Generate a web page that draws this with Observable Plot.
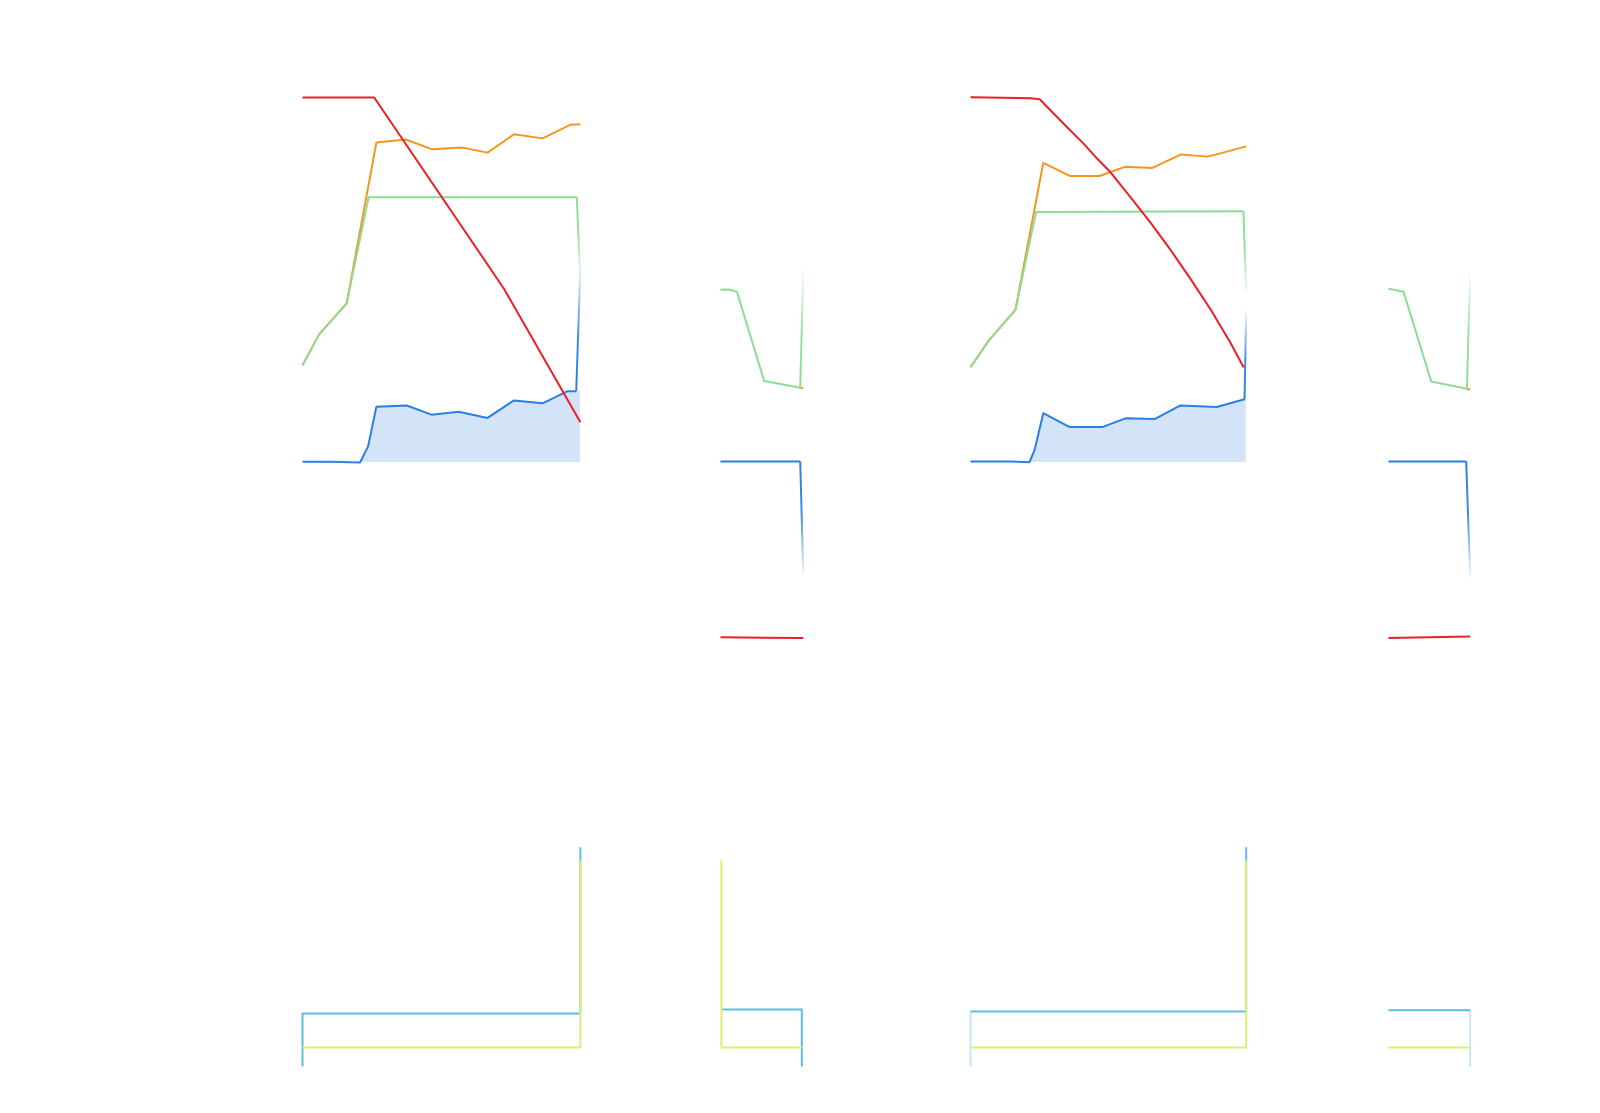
<!DOCTYPE html>
<html><head><meta charset="utf-8">
<script src="https://cdn.jsdelivr.net/npm/d3@7"></script>
<script src="https://cdn.jsdelivr.net/npm/@observablehq/plot@0.6"></script>
<style>
html,body{margin:0;padding:0;background:#fff}
#c{position:relative;width:1600px;height:1113px;background:#fff;overflow:hidden}
</style>
</head><body><div id="c"></div>
<script>
// ---------- top row, panel A ----------
const redA_t = [0, 25.8, 72.5, 100];
const redA_v = [100, 100, 47.6, 11.0];
const orangeA_t = [0, 6.0, 15.9, 26.6, 37.2, 46.7, 57.4, 66.6, 76.1, 86.4, 96.3, 100];
const orangeA_v = [26.6, 35.1, 43.6, 87.7, 88.5, 85.8, 86.3, 84.9, 89.9, 88.8, 92.5, 92.7];
const greenA_t = [0, 6.0, 15.9, 23.8, 98.7, 100];
const greenA_v = [26.6, 35.1, 43.6, 72.7, 72.7, 49.9];
const blueA_t = [0, 10.2, 20.7, 23.6, 26.6, 37.5, 46.4, 56.2, 66.6, 76.1, 86.4, 95.2, 98.5, 100];
const blueA_v = [0.2, 0.2, 0, 4.4, 15.3, 15.6, 13.1, 13.9, 12.2, 17.0, 16.2, 19.5, 19.5, 53.5];
const areaA_t = [0, 10.2, 20.7, 23.6, 26.6, 37.5, 46.4, 56.2, 66.6, 76.1, 86.4, 95.2, 98.5, 100];
const areaA_v = [0.2, 0.2, 0, 4.4, 15.3, 15.6, 13.1, 13.9, 12.2, 17.0, 16.2, 19.5, 19.5, 19.5];

// ---------- top row, panel B ----------
const greenB_t = [0, 10.5, 19.8, 52.8, 96.3, 100];
const greenB_v = [47.3, 47.4, 46.8, 22.3, 20.5, 53.1];
const orangeB_t = [96.3, 100];
const orangeB_v = [20.5, 20.3];
const blueB_t = [0, 96.3, 100];
const blueB_v = [0.27, 0.27, -31.0];
const areaB_t = [0, 96.3, 100];
const areaB_v = [0.27, 0.27, 0.27];
const redB_t = [0, 100];
const redB_v = [-47.9, -48.1];

// ---------- top row, panel C ----------
const redC_t = [0, 21.8, 25.1, 33.8, 41.1, 46.0, 50.8, 58.0, 65.3, 72.5, 79.8, 87.1, 94.3, 99.1];
const redC_v = [100.1, 99.8, 99.5, 92.8, 87.3, 83.2, 79.5, 72.7, 65.7, 58.3, 50.3, 41.9, 32.8, 26.0];
const orangeC_t = [0, 6.6, 16.3, 26.4, 36.0, 46.8, 56.0, 66.0, 76.4, 86.0, 91.6, 100];
const orangeC_v = [26.1, 33.4, 41.8, 82.1, 78.5, 78.5, 81.0, 80.7, 84.4, 83.8, 84.9, 86.6];
const greenC_t = [0, 6.6, 16.3, 23.8, 99.0, 100];
const greenC_v = [26.1, 33.4, 41.8, 68.6, 68.8, 46.2];
const blueC_t = [0, 13.9, 21.4, 23.2, 26.4, 36.0, 47.8, 56.2, 66.8, 76.0, 89.3, 99.4, 100];
const blueC_v = [0.27, 0.27, 0.08, 3.3, 13.5, 9.7, 9.7, 12.1, 11.9, 15.6, 15.2, 17.3, 41.6];
const areaC_t = [0, 13.9, 21.4, 23.2, 26.4, 36.0, 47.8, 56.2, 66.8, 76.0, 89.3, 99.4, 100];
const areaC_v = [0.27, 0.27, 0.08, 3.3, 13.5, 9.7, 9.7, 12.1, 11.9, 15.6, 15.2, 17.3, 17.5];

// ---------- top row, panel D ----------
const greenD_t = [0, 18.4, 52.3, 96.0, 100];
const greenD_v = [47.6, 46.8, 22.2, 20.2, 52.6];
const orangeD_t = [96.0, 100];
const orangeD_v = [20.2, 20.0];
const blueD_t = [0, 95.1, 100];
const blueD_v = [0.27, 0.27, -31.4];
const areaD_t = [0, 95.1, 100];
const areaD_v = [0.27, 0.27, 0.27];
const redD_t = [0, 100];
const redD_v = [-48.1, -47.7];

// ---------- bottom row ----------
const lbA_t = [0, 0, 100, 100];      const lbA_v = [0, 24.1, 24.1, 99.7];
const ylA_t = [0, 100, 100];         const ylA_v = [8.6, 8.6, 93.6];
const lbB_t = [1.1, 98.2, 98.2];     const lbB_v = [25.9, 25.9, 0];
const ylB_t = [1.1, 1.1, 98.2];      const ylB_v = [93.6, 8.6, 8.6];
const lbC_t = [0, 0, 100, 100];      const lbC_v = [0, 25.0, 25.0, 99.7];
const ylC_t = [0, 100, 100];         const ylC_v = [8.6, 8.6, 93.6];
const lbD_t = [0, 100, 100];         const lbD_v = [25.5, 25.5, 0];
const ylD_t = [0, 100];              const ylD_v = [8.6, 8.6];

// ---------- styles ----------
const RED = "#ec1f27", ORANGE = "#f7941f", GREEN = "#8ddc95", BLUE = "#2b7fe2", AREA = "#d3e3f8";
const LBLUE = "#5dbbee", YELLOW = "#dcef6e";

const container = document.getElementById("c");

// gradients used for the fading end segments
const defsSvg = d3.create("svg").attr("width", 0).attr("height", 0)
  .style("position", "absolute").style("left", "0px").style("top", "0px");
const defs = defsSvg.append("defs");
[["GreenUp", GREEN, 1, 0], ["GreenDown", GREEN, 0, 1], ["BlueUp", BLUE, 1, 0], ["BlueDown", BLUE, 0, 1]]
  .forEach(([id, col, y1, y2]) => {
    const g = defs.append("linearGradient").attr("id", "fade" + id)
      .attr("x1", 0).attr("x2", 0).attr("y1", y1).attr("y2", y2);
    g.append("stop").attr("offset", 0).attr("stop-color", col).attr("stop-opacity", 1);
    g.append("stop").attr("offset", 0.45).attr("stop-color", col).attr("stop-opacity", 0.9);
    g.append("stop").attr("offset", 1).attr("stop-color", col).attr("stop-opacity", 0.05);
  });
container.appendChild(defsSvg.node());

const zip = (t, v) => t.map((x, i) => ({t: x, v: v[i]}));
const ln = (t, v, stroke, extra = {}) =>
  Plot.line(zip(t, v), {x: "t", y: "v", stroke, strokeWidth: 2, strokeLinejoin: "round", strokeLinecap: "butt", ...extra});
// line whose last segment fades out
const lnFade = (t, v, stroke, grad) => [
  ln(t.slice(0, -1), v.slice(0, -1), stroke),
  ln(t.slice(-2), v.slice(-2), `url(#fade${grad})`)
];
const ar = (t, v) => Plot.areaY(zip(t, v), {x: "t", y: "v", fill: AREA});

function panel(x0, x1, row, marks) {
  const top = row === 0 ? {top: 0, height: 700, mt: 97, mb: 238} : {top: 780, height: 320, mt: 66, mb: 34};
  const svg = Plot.plot({
    width: x1 - x0 + 40, height: top.height,
    marginLeft: 20, marginRight: 20, marginTop: top.mt, marginBottom: top.mb,
    x: {domain: [0, 100], axis: null},
    y: {domain: [0, 100], axis: null},
    style: {position: "absolute", left: (x0 - 20) + "px", top: top.top + "px", background: "transparent", overflow: "visible"},
    marks: marks.flat()
  });
  container.appendChild(svg);
}

const PA = [301.7, 579.6], PB = [719.5, 802.3], PC = [970, 1245.7], PD = [1388.3, 1470];

panel(...PA, 0, [
  ar(areaA_t, areaA_v),
  lnFade(blueA_t, blueA_v, BLUE, "BlueUp"),
  ln(orangeA_t, orangeA_v, ORANGE),
  lnFade(greenA_t, greenA_v, GREEN, "GreenDown"),
  ln(redA_t, redA_v, RED)
]);
panel(...PB, 0, [
  ar(areaB_t, areaB_v),
  ln(orangeB_t, orangeB_v, ORANGE),
  lnFade(greenB_t, greenB_v, GREEN, "GreenUp"),
  lnFade(blueB_t, blueB_v, BLUE, "BlueDown"),
  ln(redB_t, redB_v, RED)
]);
panel(...PC, 0, [
  ar(areaC_t, areaC_v),
  lnFade(blueC_t, blueC_v, BLUE, "BlueUp"),
  ln(orangeC_t, orangeC_v, ORANGE),
  lnFade(greenC_t, greenC_v, GREEN, "GreenDown"),
  ln(redC_t, redC_v, RED)
]);
panel(...PD, 0, [
  ar(areaD_t, areaD_v),
  ln(orangeD_t, orangeD_v, ORANGE),
  lnFade(greenD_t, greenD_v, GREEN, "GreenUp"),
  lnFade(blueD_t, blueD_v, BLUE, "BlueDown"),
  ln(redD_t, redD_v, RED)
]);

panel(...PA, 1, [ln(lbA_t, lbA_v, LBLUE), ln(ylA_t, ylA_v, YELLOW)]);
panel(...PB, 1, [ln(lbB_t, lbB_v, LBLUE), ln(ylB_t, ylB_v, YELLOW)]);
panel(...PC, 1, [
  ln(lbC_t.slice(0, 2), lbC_v.slice(0, 2), LBLUE, {strokeOpacity: 0.35}),
  ln(lbC_t.slice(1), lbC_v.slice(1), LBLUE),
  ln(ylC_t, ylC_v, YELLOW)
]);
panel(...PD, 1, [
  ln(lbD_t.slice(0, 2), lbD_v.slice(0, 2), LBLUE),
  ln(lbD_t.slice(1), lbD_v.slice(1), LBLUE, {strokeOpacity: 0.35}),
  ln(ylD_t, ylD_v, YELLOW)
]);
</script></body></html>
